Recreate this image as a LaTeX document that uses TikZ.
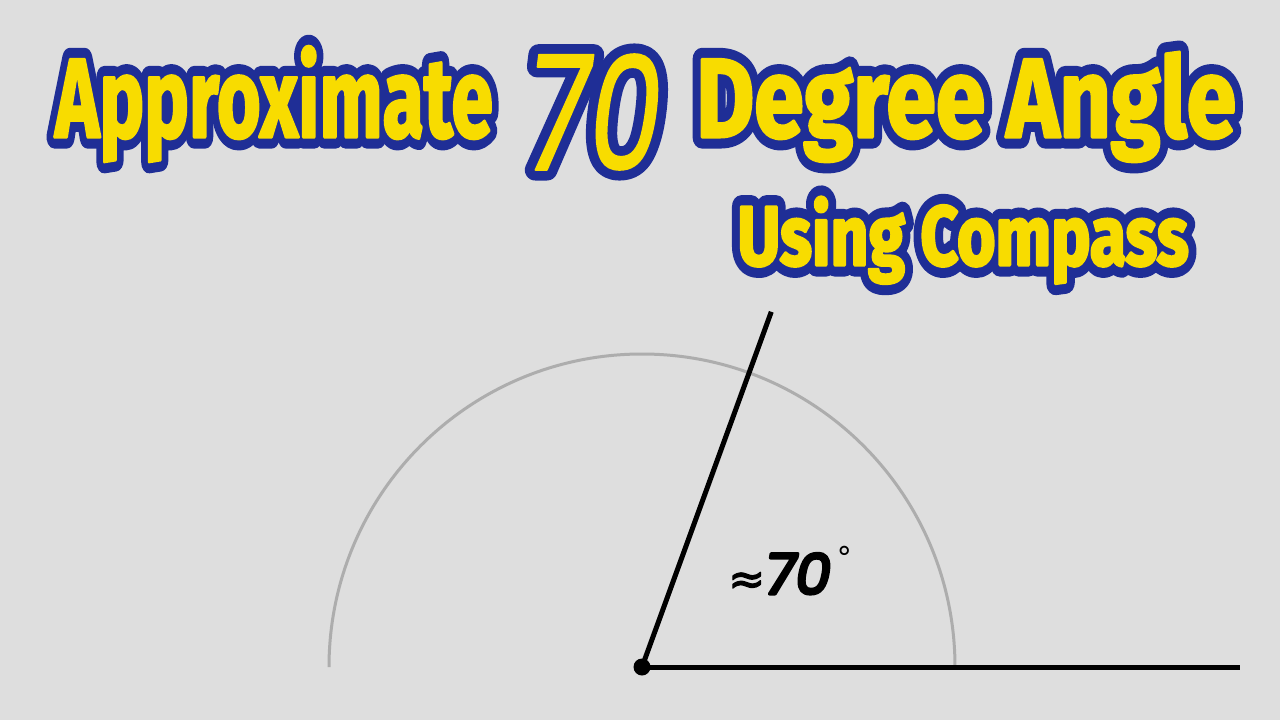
\documentclass[tikz,border=0pt]{standalone}
\usepackage{fontspec}
\usepackage{graphicx}
\usetikzlibrary{positioning}
\setmainfont{Liberation Sans}
\newfontfamily\titlefont{Fira Sans}
\newfontfamily\numfont[FakeStretch=0.72]{Poppins}
\newfontfamily\labelfont{Poppins}
\newfontfamily\symfont{DejaVu Sans}
\definecolor{bgcol}{HTML}{DEDEDE}
\definecolor{titleyellow}{HTML}{F8DC00}
\definecolor{titleblue}{HTML}{1F2E96}
\definecolor{arcgray}{HTML}{ADADAD}
% text drawn as fill + stroke of the given width (bp)
\newcommand{\strokedtext}[2]{\special{pdf:literal direct 2 Tr #1 w 1 j}#2\special{pdf:literal direct 0 Tr 0 j}}
\tikzset{
    titletext/.style={anchor=base, inner sep=0pt},
    rim/.style={text=titleblue},
    face/.style={text=titleyellow},
    bigfont/.style={font=\titlefont\bfseries\fontsize{56}{60}\selectfont},
    smallfont/.style={font=\titlefont\bfseries\fontsize{42}{46}\selectfont},
    numberfont/.style={font=\numfont\itshape\fontsize{80}{84}\selectfont},
    figline/.style={line width=2.5pt, black},
    arcline/.style={line width=1.5pt, arcgray},
    dot/.style={circle, fill=black, inner sep=0pt, minimum size=8.5pt}
}

\begin{document}
\begin{tikzpicture}[x=0.5pt, y=0.5pt]
    % canvas
    \fill[bgcol] (0,0) rectangle (1280,720);
    \useasboundingbox (0,0) rectangle (1280,720);

    % Title: blue rim first, yellow face on top
    \node[titletext, bigfont, rim] (approxrim) at (274,583) {\scalebox{0.67}[1]{\strokedtext{11.5}{Approximate}}};
    \node[titletext, bigfont, face] (approx) at (274,583) {\scalebox{0.67}[1]{\strokedtext{1.5}{Approximate}}};
    \node[titletext, numberfont, rim] (seventyrim) at (594,550) {\strokedtext{10.5}{70}};
    \node[titletext, numberfont, face] (seventy) at (594,550) {\strokedtext{0.8}{70}};
    \node[titletext, bigfont, rim] (degreerim) at (966,583) {\scalebox{0.8}[1]{\strokedtext{11.5}{Degree Angle}}};
    \node[titletext, bigfont, face] (degree) at (966,583) {\scalebox{0.8}[1]{\strokedtext{1.5}{Degree Angle}}};
    \node[titletext, smallfont, rim] (compassrim) at (963,455) {\scalebox{0.785}[1]{\strokedtext{11.5}{Using Compass}}};
    \node[titletext, smallfont, face] (compass) at (963,455) {\scalebox{0.785}[1]{\strokedtext{1.5}{Using Compass}}};

    % Construction
    \node[dot] (O) at (642,53) {};
    \path (O.center) ++(70:378) coordinate (A);
    \coordinate (B) at (1240,53);
    \draw[arcline] (O.center) ++(180:313) arc (180:0:313);
    \draw[figline] (O.center) -- (A);
    \draw[figline] (O.center) -- (B);

    % Angle label
    \node[anchor=base, inner sep=0pt, font=\labelfont\itshape\fontsize{28}{30}\selectfont] (angle) at (790,126)
        {{\symfont\fontsize{22}{24}\selectfont\strokedtext{0.6}{≈}}\strokedtext{1.6}{70}\kern3pt{\symfont\fontsize{15}{16}\selectfont\raisebox{13pt}{°}}};
\end{tikzpicture}
\end{document}
